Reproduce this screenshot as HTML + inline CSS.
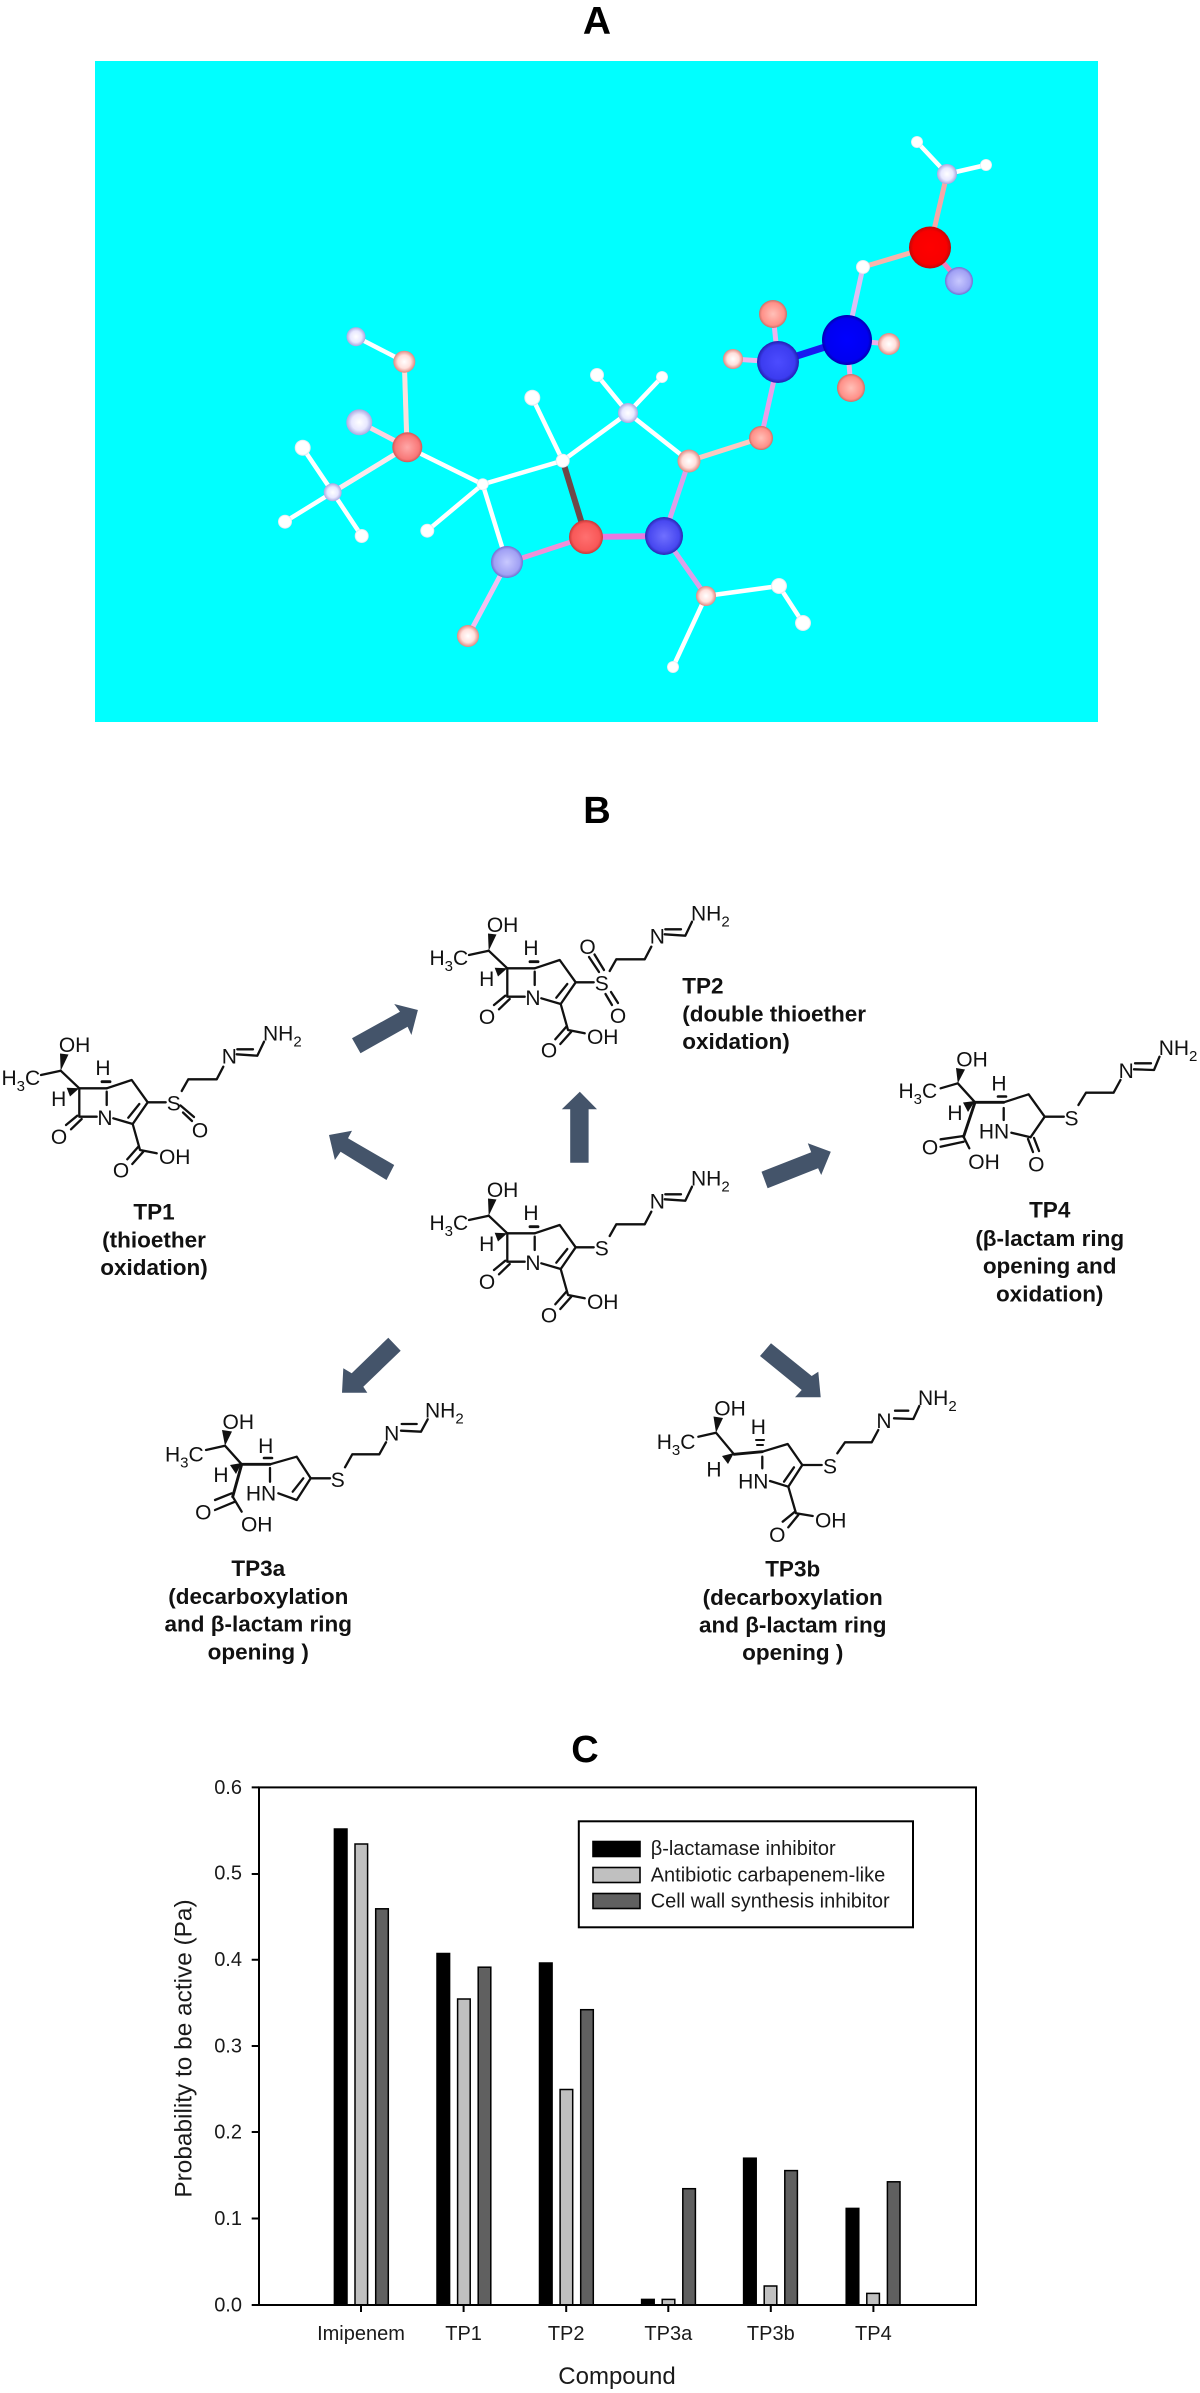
<!DOCTYPE html>
<html lang="en"><head><meta charset="utf-8"><title>Imipenem transformation products</title>
<style>
html,body{margin:0;padding:0;background:#fff;width:1200px;height:2393px;overflow:hidden}
svg{display:block}
text{font-family:"Liberation Sans",Arial,sans-serif}
.m text{font-size:21px;fill:#111}
.m .c{text-anchor:middle}
.k{stroke:#111;stroke-width:2.3;fill:none;stroke-linecap:round;stroke-linejoin:round}
.kb{stroke:#111;stroke-width:2.9;fill:none;stroke-linecap:round}
.w{fill:#111}
.l{font-size:22.5px;font-weight:bold;fill:#111;text-anchor:middle}
.h{font-size:38px;font-weight:bold;fill:#000;text-anchor:middle}
.ar{fill:#44546a}
.t{font-size:20px;fill:#1a1a1a}
</style></head><body>
<svg xmlns="http://www.w3.org/2000/svg" width="1200" height="2393" viewBox="0 0 1200 2393">
<defs>
<radialGradient id="gR"><stop offset="0" stop-color="#ff0000"/><stop offset=".8" stop-color="#f80000"/><stop offset="1" stop-color="#c00808"/></radialGradient>
<radialGradient id="gB"><stop offset="0" stop-color="#0000ff"/><stop offset=".85" stop-color="#0000f0"/><stop offset="1" stop-color="#0000b0"/></radialGradient>
<radialGradient id="gB2"><stop offset="0" stop-color="#4c4cff"/><stop offset=".8" stop-color="#3c3cf0"/><stop offset="1" stop-color="#2020b0"/></radialGradient>
<radialGradient id="gB3"><stop offset="0" stop-color="#7070ff"/><stop offset=".8" stop-color="#4848f0"/><stop offset="1" stop-color="#2828b0"/></radialGradient>
<radialGradient id="gL"><stop offset="0" stop-color="#c8c8ff"/><stop offset=".8" stop-color="#a0a0f4"/><stop offset="1" stop-color="#7070d0"/></radialGradient>
<radialGradient id="gS"><stop offset="0" stop-color="#ff7070"/><stop offset=".8" stop-color="#f85858"/><stop offset="1" stop-color="#c83838"/></radialGradient>
<radialGradient id="gS2"><stop offset="0" stop-color="#ffc0b8"/><stop offset=".8" stop-color="#ff9088"/><stop offset="1" stop-color="#c87068"/></radialGradient>
<radialGradient id="gS4"><stop offset="0" stop-color="#ffa8a8"/><stop offset=".8" stop-color="#f87878"/><stop offset="1" stop-color="#d05858"/></radialGradient>
<radialGradient id="gP"><stop offset="0" stop-color="#ffffff"/><stop offset=".6" stop-color="#ffe0dc"/><stop offset="1" stop-color="#e08880"/></radialGradient>
<radialGradient id="gW"><stop offset="0" stop-color="#ffffff"/><stop offset=".8" stop-color="#ffffff"/><stop offset="1" stop-color="#d8e4ec"/></radialGradient>
<radialGradient id="gV"><stop offset="0" stop-color="#ffffff"/><stop offset=".6" stop-color="#e8e8ff"/><stop offset="1" stop-color="#a8a8e0"/></radialGradient>

<g id="core">
<g class="k">
<path d="M60.7 1070.7L41 1075"/><path d="M60.7 1070.7L79.3 1088.3L106.7 1088.3"/>
<path d="M79.3 1088.3L79.3 1116.7L96.7 1116.7"/>
<path d="M106.7 1091.7L106.7 1105"/>
<path d="M66 1125L77.3 1115.7M71 1129.3L81.7 1119"/>
<path d="M106.7 1088.3L131.7 1080L147.7 1102.3L132.7 1124L113.3 1118.3"/>
<path d="M139.3 1104L128.3 1117.7"/>
<path d="M147.7 1102.3L165.7 1102.3"/>
<path d="M132.7 1124L140 1150L156.7 1153.3"/>
<path d="M127.3 1159.3L138.3 1146.7M132.3 1164L143.3 1151.7"/>
<path d="M181.7 1091L188.3 1079.3L216.7 1079.3L223.3 1066.7"/>
<path d="M237.3 1049.3L253 1049.3M236.7 1054.3L257.3 1055.7L264 1041.7"/>
<path d="M102 1081.7L110 1081.7" stroke-width="2.8"/>
</g>
<polygon class="w" points="60.7,1070.7 60,1053.5 68.5,1054.5"/>
<polygon class="w" points="79.3,1088.3 66.7,1087.7 70,1096.5"/>
</g>
</defs>

<rect width="1200" height="2393" fill="#fff"/>

<!-- Panel A -->
<text class="h" x="597" y="34" style="font-size:39px">A</text>
<rect x="95" y="61" width="1003" height="661" fill="#00ffff"/>
<g fill="none" stroke-linecap="round">
<g stroke="#fff" stroke-width="4.5">
<path d="M917 142L947 174M986 165L947 174"/>
<path d="M689 461L628 413M628 413L597 375M628 413L662 377M628 413L562.7 460.7"/>
<path d="M562.7 460.7L532.3 397.7M562.7 460.7L482.7 484.3M482.7 484.3L407 447M482.7 484.3L427.3 530.7M482.7 484.3L507 563"/>
<path d="M407 447L404.3 361.7L356 336.7M407 447L332.7 492.3L302.7 447.7M332.7 492.3L285 521.7M332.7 492.3L361.7 536"/>
<path d="M706 596L779 586L803 623M706 596L673 667"/>
</g>
<path d="M947 174L930 247" stroke="#f4a8a8" stroke-width="5"/>
<path d="M930 247L863 267" stroke="#f8b4ac" stroke-width="5"/>
<path d="M930 247L959 281" stroke="#ee80c0" stroke-width="5"/>
<path d="M863 267L847 340" stroke="#dcc0f4" stroke-width="5"/>
<path d="M847 340L889 344M847 340L851 388" stroke="#ecb0e8" stroke-width="5"/>
<path d="M847 340L778 362" stroke="#1818f0" stroke-width="7"/>
<path d="M773 314L778 362M778 362L733 359" stroke="#ecb4ec" stroke-width="5"/>
<path d="M778 362L761 438" stroke="#e8a0e8" stroke-width="5"/>
<path d="M761 438L689 461" stroke="#fcc8c0" stroke-width="5"/>
<path d="M689 461L664 536" stroke="#dca0e8" stroke-width="5"/>
<path d="M664 536L706 596" stroke="#dca0e8" stroke-width="5"/>
<path d="M562.7 460.7L586 537" stroke="#6e4848" stroke-width="6"/>
<path d="M586 537L664 536" stroke="#e878e0" stroke-width="6"/>
<path d="M586 537L507 563" stroke="#f090d8" stroke-width="5"/>
<path d="M507 563L468 636" stroke="#f0c0f0" stroke-width="5"/>
<path d="M407 447L359 422" stroke="#fcd4e0" stroke-width="5"/>
<path d="M407 447L404.3 361.7" stroke="#fce0dc" stroke-width="5"/>
<path d="M407 447L332.7 492.3" stroke="#fce8ec" stroke-width="5"/>
</g>
<circle cx="917" cy="142" r="6" fill="url(#gW)"/>
<circle cx="986" cy="165" r="6" fill="url(#gW)"/>
<circle cx="947" cy="174" r="10" fill="url(#gV)"/>
<circle cx="930" cy="247.5" r="21" fill="url(#gR)"/>
<circle cx="863" cy="267" r="7" fill="url(#gW)"/>
<circle cx="959" cy="281" r="14" fill="url(#gL)"/>
<circle cx="847" cy="340" r="25" fill="url(#gB)"/>
<circle cx="889" cy="344" r="11" fill="url(#gP)"/>
<circle cx="773" cy="314" r="14" fill="url(#gS2)"/>
<circle cx="778" cy="362" r="21" fill="url(#gB2)"/>
<circle cx="733" cy="359" r="10" fill="url(#gP)"/>
<circle cx="851" cy="388" r="14" fill="url(#gS2)"/>
<circle cx="761" cy="438" r="12" fill="url(#gS2)"/>
<circle cx="689" cy="461" r="11.5" fill="url(#gP)"/>
<circle cx="628" cy="413" r="10" fill="url(#gV)"/>
<circle cx="597" cy="375" r="7" fill="url(#gW)"/>
<circle cx="662" cy="377" r="6" fill="url(#gW)"/>
<circle cx="562.7" cy="460.7" r="7" fill="url(#gW)"/>
<circle cx="532.3" cy="397.7" r="8" fill="url(#gW)"/>
<circle cx="482.7" cy="484.3" r="6" fill="url(#gW)"/>
<circle cx="407.3" cy="447.3" r="15" fill="url(#gS4)"/>
<circle cx="404.3" cy="361.7" r="11" fill="url(#gP)"/>
<circle cx="356" cy="336.7" r="9.5" fill="url(#gV)"/>
<circle cx="359.3" cy="422.3" r="13" fill="url(#gV)"/>
<circle cx="332.7" cy="492.3" r="9" fill="url(#gV)"/>
<circle cx="302.7" cy="447.7" r="8" fill="url(#gW)"/>
<circle cx="285" cy="521.7" r="7" fill="url(#gW)"/>
<circle cx="361.7" cy="536" r="7" fill="url(#gW)"/>
<circle cx="427.3" cy="530.7" r="7" fill="url(#gW)"/>
<circle cx="586" cy="537" r="17" fill="url(#gS)"/>
<circle cx="664" cy="536" r="19" fill="url(#gB3)"/>
<circle cx="507" cy="562" r="16" fill="url(#gL)"/>
<circle cx="468" cy="636" r="11" fill="url(#gP)"/>
<circle cx="706" cy="596" r="10" fill="url(#gP)"/>
<circle cx="779" cy="586" r="8" fill="url(#gW)"/>
<circle cx="803" cy="623" r="8" fill="url(#gW)"/>
<circle cx="673" cy="667" r="6" fill="url(#gW)"/>

<!-- Panel B -->
<text class="h" x="597" y="823">B</text>

<!-- arrows -->
<polygon class="ar" points="352,1038.3 400,1011.7 394.2,1004 417.9,1010 411.4,1035 407.6,1026.7 360.5,1053.3"/>
<polygon class="ar" points="329,1135 352,1130.7 348,1138.3 394.2,1165 386.5,1180 340.6,1151.7 334.9,1160"/>
<polygon class="ar" points="579.8,1091.7 597,1109.3 588.6,1109.3 588.6,1162.7 570.2,1162.7 570.2,1109.3 561.8,1109.3"/>
<polygon class="ar" points="761.5,1171.7 811.2,1152.3 807.8,1143.3 830.8,1151.7 821.2,1175 818.1,1168.3 767.6,1188.3"/>
<polygon class="ar" points="388.3,1337.7 400.7,1350.7 363.3,1386.7 367.3,1392.7 342,1392.7 343.3,1368.3 351.7,1373.3"/>
<polygon class="ar" points="771,1343.3 760,1356 801.7,1390 795,1397.3 820.7,1397.3 818.3,1371.7 811.7,1376"/>

<!-- TP1 -->
<g class="m">
<use href="#core"/>
<path class="k" d="M180.5 1105.5L194 1117M183 1112.5L192 1121"/>
<text class="c" x="74.6" y="1052">OH</text>
<text x="1.5" y="1085">H<tspan dy="6" font-size="15">3</tspan><tspan dy="-6">C</tspan></text>
<text class="c" x="58.7" y="1106">H</text>
<text class="c" x="103" y="1075">H</text>
<text class="c" x="105" y="1125">N</text>
<text class="c" x="59" y="1144">O</text>
<text class="c" x="173.7" y="1110.5">S</text>
<text class="c" x="200" y="1137.5">O</text>
<text class="c" x="121" y="1177.5">O</text>
<text class="c" x="174.7" y="1164">OH</text>
<text class="c" x="229.3" y="1063.5">N</text>
<text x="263" y="1040.7">NH<tspan dy="6" font-size="15">2</tspan></text>
</g>
<text class="l" x="154" y="1219.3">TP1</text>
<text class="l" x="154" y="1247.5">(thioether</text>
<text class="l" x="154" y="1275">oxidation)</text>

<!-- TP2 -->
<g class="m" transform="translate(428,-120)">
<use href="#core"/>
<text class="c" x="74.6" y="1052">OH</text>
<text x="1.5" y="1085">H<tspan dy="6" font-size="15">3</tspan><tspan dy="-6">C</tspan></text>
<text class="c" x="58.7" y="1106">H</text>
<text class="c" x="103" y="1075">H</text>
<text class="c" x="105" y="1125">N</text>
<text class="c" x="59" y="1144">O</text>
<text class="c" x="173.7" y="1110.5">S</text>
<text class="c" x="121" y="1177.5">O</text>
<text class="c" x="174.7" y="1164">OH</text>
<text class="c" x="229.3" y="1063.5">N</text>
<text x="263" y="1040.7">NH<tspan dy="6" font-size="15">2</tspan></text>
<path class="k" d="M161 1077L171 1092M166.5 1074.5L176 1090"/>
<path class="k" d="M177.5 1114L184 1125M183 1112L190 1123"/>
<text class="c" x="159.5" y="1074">O</text>
<text class="c" x="190" y="1143">O</text>
</g>
<text class="l" x="682.3" y="993.3" style="text-anchor:start">TP2</text>
<text class="l" x="682.3" y="1021.7" style="text-anchor:start">(double thioether</text>
<text class="l" x="682.3" y="1049" style="text-anchor:start">oxidation)</text>

<!-- Central imipenem -->
<g class="m" transform="translate(428,145)">
<use href="#core"/>
<text class="c" x="74.6" y="1052">OH</text>
<text x="1.5" y="1085">H<tspan dy="6" font-size="15">3</tspan><tspan dy="-6">C</tspan></text>
<text class="c" x="58.7" y="1106">H</text>
<text class="c" x="103" y="1075">H</text>
<text class="c" x="105" y="1125">N</text>
<text class="c" x="59" y="1144">O</text>
<text class="c" x="173.7" y="1110.5">S</text>
<text class="c" x="121" y="1177.5">O</text>
<text class="c" x="174.7" y="1164">OH</text>
<text class="c" x="229.3" y="1063.5">N</text>
<text x="263" y="1040.7">NH<tspan dy="6" font-size="15">2</tspan></text>
</g>

<!-- TP4 -->
<g class="m">
<g class="k">
<path d="M957.8 1083.3L940.6 1088.3M957.8 1083.3L975 1102.3"/>
<path d="M1003.7 1102.3L1028.6 1094.3L1044.7 1116.7L1030.5 1137.3L1011.4 1132.7"/>
<path d="M1003.7 1108L1003.7 1120"/>
<path d="M1028 1139L1033 1152M1034 1138L1039 1151"/>
<path d="M963.6 1136.7L969.3 1148.3"/>
<path d="M940.6 1139.3L963.6 1136M940.6 1146.7L963.6 1141.7"/>
<path d="M1044.7 1116.7L1063.8 1116.7"/>
<path d="M1078.4 1105L1086 1092.7L1113.6 1092.7L1120.5 1080"/>
<path d="M1135 1063.3L1151 1063.3M1134 1069.3L1154 1070L1159.5 1056.7"/>
<path d="M998 1096.5L1006 1096.5" stroke-width="2.6"/>
</g>
<path class="kb" d="M975 1102.3L1003.7 1102.3M975 1102.3L963.6 1136.7"/>
<polygon class="w" points="957.8,1083.3 956,1068 965,1069.5"/>
<polygon class="w" points="975,1101 963,1102.5 968,1112"/>
<text class="c" x="972" y="1066.5">OH</text>
<text x="898.5" y="1098">H<tspan dy="6" font-size="15">3</tspan><tspan dy="-6">C</tspan></text>
<text class="c" x="955" y="1120">H</text>
<text class="c" x="999" y="1090.5">H</text>
<text class="c" x="994" y="1138.5">HN</text>
<text class="c" x="1036.3" y="1171.5">O</text>
<text class="c" x="930" y="1154.5">O</text>
<text class="c" x="984" y="1169">OH</text>
<text class="c" x="1071.5" y="1125.5">S</text>
<text class="c" x="1126.2" y="1078">N</text>
<text x="1158.7" y="1055">NH<tspan dy="6" font-size="15">2</tspan></text>
</g>
<text class="l" x="1049.7" y="1217.5">TP4</text>
<text class="l" x="1049.7" y="1246">(β-lactam ring</text>
<text class="l" x="1049.7" y="1273.5">opening and</text>
<text class="l" x="1049.7" y="1301.5">oxidation)</text>

<!-- TP3a -->
<g class="m">
<g class="k">
<path d="M225 1445.7L206 1450M225 1445.7L241.7 1464.3"/>
<path d="M270 1464.3L296.7 1456.7L310.7 1478.3L296.7 1500L278.3 1493.3"/>
<path d="M303.3 1478.3L292.7 1491.7"/>
<path d="M270 1468L270 1481.7"/>
<path d="M232.7 1496.7L241.7 1511.7"/>
<path d="M215 1500L231.7 1493.3M215 1510L235 1501.7"/>
<path d="M310.7 1478.3L330 1478.3"/>
<path d="M345 1467.3L352.3 1454.3L379.3 1454.3L386 1442.3"/>
<path d="M401.7 1424L416.7 1424M401 1430.7L421 1431.7L427.7 1419.3"/>
<path d="M264 1458L272 1458" stroke-width="2.6"/>
</g>
<path class="kb" d="M241.7 1464.3L270 1464.3M241.7 1464.3L232.7 1496.7"/>
<polygon class="w" points="225,1445.7 222,1430 232,1431.5"/>
<polygon class="w" points="241.7,1463 230,1465 236,1474"/>
<text class="c" x="238.3" y="1429">OH</text>
<text x="165" y="1461.7">H<tspan dy="6" font-size="15">3</tspan><tspan dy="-6">C</tspan></text>
<text class="c" x="221" y="1482">H</text>
<text class="c" x="265.7" y="1453">H</text>
<text class="c" x="261" y="1500.5">HN</text>
<text class="c" x="203.3" y="1519.5">O</text>
<text class="c" x="256.7" y="1531.5">OH</text>
<text class="c" x="337.7" y="1487">S</text>
<text class="c" x="391.7" y="1440.5">N</text>
<text x="425" y="1417.7">NH<tspan dy="6" font-size="15">2</tspan></text>
</g>
<text class="l" x="258.3" y="1576">TP3a</text>
<text class="l" x="258.3" y="1604">(decarboxylation</text>
<text class="l" x="258.3" y="1631.7">and β-lactam ring</text>
<text class="l" x="258.3" y="1659.3">opening )</text>

<!-- TP3b -->
<g class="m">
<g class="k">
<path d="M716 1432.7L698.3 1436.7M716 1432.7L734 1454.3"/>
<path d="M762.3 1451.7L787.7 1444L802.3 1465L788.3 1486.7L770 1481"/>
<path d="M794 1467.3L784 1481.7"/>
<path d="M762.3 1456.7L762.3 1468.3"/>
<path d="M788.3 1486.7L796 1513.3L812.7 1516"/>
<path d="M782.7 1521.7L795 1511.7M788.3 1527.3L798.3 1515"/>
<path d="M802.3 1465L821.7 1465"/>
<path d="M837.3 1453.3L845 1442.3L871.7 1442.3L878.3 1430"/>
<path d="M895 1410.7L908.3 1410.7M894 1418.3L913.3 1419L919.3 1406"/>
<path d="M756 1440L764 1440M757 1445L763 1445" stroke-width="2"/>
</g>
<path class="kb" d="M734 1454.3L762.3 1451.7"/>
<polygon class="w" points="716,1432.7 713.5,1416.5 723,1418"/>
<polygon class="w" points="734,1453 722,1456 728,1464"/>
<text class="c" x="730" y="1415.5">OH</text>
<text x="656.7" y="1449">H<tspan dy="6" font-size="15">3</tspan><tspan dy="-6">C</tspan></text>
<text class="c" x="714" y="1476.5">H</text>
<text class="c" x="758.3" y="1434">H</text>
<text class="c" x="753.3" y="1488.5">HN</text>
<text class="c" x="777.3" y="1542">O</text>
<text class="c" x="830.7" y="1527.5">OH</text>
<text class="c" x="830" y="1473.5">S</text>
<text class="c" x="884" y="1428">N</text>
<text x="918" y="1405">NH<tspan dy="6" font-size="15">2</tspan></text>
</g>
<text class="l" x="792.7" y="1576.7">TP3b</text>
<text class="l" x="792.7" y="1605">(decarboxylation</text>
<text class="l" x="792.7" y="1632.7">and β-lactam ring</text>
<text class="l" x="792.7" y="1660">opening )</text>

<!-- Panel C -->
<text class="h" x="585" y="1762">C</text>

<g stroke="#000" stroke-width="1.5">
<rect x="334.4" y="1829" width="12.6" height="476" fill="#000"/>
<rect x="355" y="1844" width="12.6" height="461" fill="#c0c0c0"/>
<rect x="375.7" y="1908.8" width="12.6" height="396.2" fill="#606060"/>
<rect x="437" y="1953.5" width="12.6" height="351.5" fill="#000"/>
<rect x="457.6" y="1999" width="12.6" height="306" fill="#c0c0c0"/>
<rect x="478.2" y="1967.2" width="12.6" height="337.8" fill="#606060"/>
<rect x="539.5" y="1963" width="12.6" height="342" fill="#000"/>
<rect x="560.1" y="2089.5" width="12.6" height="215.5" fill="#c0c0c0"/>
<rect x="580.7" y="2009.7" width="12.6" height="295.3" fill="#606060"/>
<rect x="641.6" y="2299.4" width="12.6" height="5.6" fill="#000"/>
<rect x="662.2" y="2299.4" width="12.6" height="5.6" fill="#c0c0c0"/>
<rect x="682.8" y="2188.7" width="12.6" height="116.3" fill="#606060"/>
<rect x="743.6" y="2158.2" width="12.6" height="146.8" fill="#000"/>
<rect x="764.2" y="2286" width="12.6" height="19" fill="#c0c0c0"/>
<rect x="784.8" y="2170.6" width="12.6" height="134.4" fill="#606060"/>
<rect x="846.2" y="2208.4" width="12.6" height="96.6" fill="#000"/>
<rect x="866.8" y="2293.4" width="12.6" height="11.6" fill="#c0c0c0"/>
<rect x="887.4" y="2181.8" width="12.6" height="123.2" fill="#606060"/>
</g>

<rect x="259" y="1787.4" width="717" height="517.6" fill="none" stroke="#000" stroke-width="2"/>
<path stroke="#000" stroke-width="2" d="M251.7 1787.4H259M251.7 1874H259M251.7 1959.7H259M251.7 2046H259M251.7 2132H259M251.7 2218.5H259M251.7 2305H259M361 2305V2312M463.6 2305V2312M566.2 2305V2312M668.3 2305V2312M770.8 2305V2312M873.4 2305V2312"/>

<g class="t" text-anchor="end">
<text x="242" y="1794">0.6</text>
<text x="242" y="1879.7">0.5</text>
<text x="242" y="1966">0.4</text>
<text x="242" y="2052.7">0.3</text>
<text x="242" y="2138.5">0.2</text>
<text x="242" y="2225">0.1</text>
<text x="242" y="2311.5">0.0</text>
</g>
<g class="t" text-anchor="middle">
<text x="361" y="2340">Imipenem</text>
<text x="463.6" y="2340">TP1</text>
<text x="566.2" y="2340">TP2</text>
<text x="668.3" y="2340">TP3a</text>
<text x="770.8" y="2340">TP3b</text>
<text x="873.4" y="2340">TP4</text>
</g>
<text x="617" y="2384" text-anchor="middle" style="font-size:24px;fill:#1a1a1a">Compound</text>
<text transform="translate(191.5,2048.5) rotate(-90)" text-anchor="middle" style="font-size:24.4px;fill:#1a1a1a">Probability to be active (Pa)</text>

<rect x="578.8" y="1821.3" width="334.2" height="106" fill="#fff" stroke="#000" stroke-width="2"/>
<g stroke="#000" stroke-width="1.6">
<rect x="593" y="1841.5" width="47" height="15" fill="#000"/>
<rect x="593" y="1867.5" width="47" height="15" fill="#c0c0c0"/>
<rect x="593" y="1893.5" width="47" height="15" fill="#606060"/>
</g>
<text class="t" x="650.7" y="1855">β-lactamase inhibitor</text>
<text class="t" x="650.7" y="1881.4">Antibiotic carbapenem-like</text>
<text class="t" x="650.7" y="1907.6">Cell wall synthesis inhibitor</text>
</svg>
</body></html>
